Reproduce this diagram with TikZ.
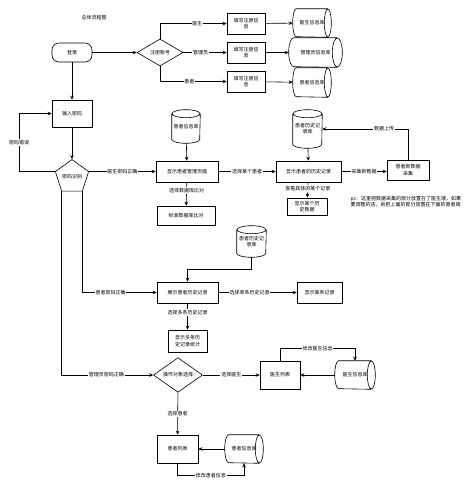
\documentclass[tikz,border=0pt]{standalone}
\usepackage{fontspec}
\newfontfamily\cjk{Noto Sans CJK SC}
\usetikzlibrary{arrows.meta, shapes.geometric}

\begin{document}
\begin{tikzpicture}[
  x=1pt, y=-1pt,
  font=\cjk\fontsize{5}{6.2}\selectfont,
  box/.style={draw, minimum width=40pt, minimum height=21pt, align=center, inner sep=1pt},
  db/.style n args={3}{minimum width=#1, minimum height=#2, inner sep=0pt, align=center,
    append after command={\pgfextra{
      \draw ([xshift=#3]\tikzlastnode.north west) -- ([xshift=-#3]\tikzlastnode.north east)
        ([xshift=#3]\tikzlastnode.north west) arc[start angle=90, end angle=270, x radius=#3, y radius=#2/2]
        -- ([xshift=-#3]\tikzlastnode.south east)
        ([xshift=-#3]\tikzlastnode.east) ellipse[x radius=#3, y radius=#2/2];
    }}},
  vdb/.style n args={3}{minimum width=#1, minimum height=#2, inner sep=0pt, align=center,
    append after command={\pgfextra{
      \draw ([yshift=-#3]\tikzlastnode.north) ellipse[x radius=#1/2, y radius=#3]
        ([yshift=-#3]\tikzlastnode.north west) -- ([yshift=#3]\tikzlastnode.south west)
        arc[start angle=180, end angle=360, x radius=#1/2, y radius=#3]
        -- ([yshift=-#3]\tikzlastnode.north east);
    }}},
  choice/.style={draw, diamond, inner sep=0pt, align=center},
  lab/.style={fill=white, inner sep=0.8pt},
  >={Stealth[length=4pt, width=3.6pt]}, line width=0.6pt
]
\fill[white] (0,0) rectangle (474,488);
\useasboundingbox (0,0) rectangle (474,488);

\node (title) at (94,18) {总体流程图};
\node[draw, rounded corners=7pt, minimum width=40pt, minimum height=19pt] (lg) at (72,52.5) {登录};
\node[choice, minimum width=46pt, minimum height=27pt] (reg) at (160,52.5) {注册账号};
\node[box, minimum width=38pt] (f1) at (246,23.5) {填写注册信\\息};
\node[box, minimum width=38pt] (f2) at (246,52.5) {填写注册信\\息};
\node[box, minimum width=38pt] (f3) at (246,81.5) {填写注册信\\息};
\node[db={38pt}{28pt}{3.5pt}] (ddb1) at (312,23) {医生信息库};
\node[db={53pt}{29pt}{5pt}] (adb) at (315.5,52.5) {管理员信息库};
\node[db={38pt}{29pt}{3.5pt}] (pdb1) at (312,82.5) {患者信息库};

\node[box, minimum height=27pt] (pwd) at (72,113.5) {输入密码};
\node[draw, regular polygon, regular polygon sides=5, minimum size=32pt, inner sep=0pt] (pw) at (72,177) {密码识别};

\node[vdb={28pt}{33pt}{4pt}] (pinfo) at (186,126.5) {患者信息库};
\node[box, minimum width=62pt] (mgr) at (187,171.5) {显示患者管理页面};
\node[box, minimum width=58pt, minimum height=19pt] (std) at (186,215.5) {标准数据库比对};
\node[vdb={29pt}{38pt}{4pt}] (hdb1) at (307.5,129) {患者历史记\\录库};
\node[box, minimum width=65pt] (hist) at (308.5,171.5) {显示患者的历史记录};
\node[box, minimum width=42pt, minimum height=20pt] (coll) at (408,170) {患者新数据\\采集};
\node[box, minimum width=40pt, minimum height=17pt] (one) at (307,206.5) {显示某个历\\史数据};
\node[anchor=west, align=left] (note) at (347,202) {ps：这里把数据采集的部分放置在了医生端，如果\\要调整的话，就把上面的部分放置在下面的患者端};

\node[vdb={29pt}{31pt}{4pt}] (hdb2) at (251.5,241.5) {患者历史记\\录库};
\node[box, minimum width=61pt] (show) at (187.5,292.5) {展示患者历史记录};
\node[box, minimum width=45pt] (single) at (319.5,292.5) {显示某条记录};
\node[box, minimum width=39pt, minimum height=22pt] (multi) at (187.5,341) {显示多条历\\史记录统计};

\node[choice, minimum width=49pt, minimum height=26pt] (op) at (178,375) {操作对象选择};
\node[box, minimum height=28pt] (doc) at (280,375) {医生列表};
\node[db={40pt}{28pt}{4pt}] (ddb2) at (355,375) {医生信息库};
\node[box, minimum width=41pt, minimum height=28pt] (plist) at (177.5,449) {患者列表};
\node[db={38pt}{28pt}{4pt}] (pdb2) at (244,449) {患者信息库};

\draw[->] (lg) -- (reg);
\draw[->] (reg.north) |- node[lab, pos=0.78] {医生} (f1.west);
\draw[->] (reg.east) -- node[lab, pos=0.4] {管理员} (f2.west);
\draw[->] (reg.south) |- node[lab, pos=0.72] {患者} (f3.west);
\draw[->] (f1) -- (ddb1);
\draw[->] (f2) -- (adb);
\draw[->] (f3) -- (pdb1);
\draw[->] (lg) -- (pwd);
\draw[->] (pwd) -- (pw.corner 1);
\draw[->] (pw.corner 2) -- ++(-36,0) |- node[lab, pos=0.25] {密码错误} (pwd.west);
\draw[->] (pw.corner 5) -- node[lab] {医生密码正确} (pw.corner 5 -| mgr.west);
\draw[->] (pinfo) -- (mgr);
\draw[->] (mgr) -- node[lab, pos=0.35] {选择数据库比对} (std);
\draw[->] (mgr) -- node[lab] {选择某个患者} (hist);
\draw[->] (hdb1) -- (hist);
\draw[->] (hist.east) -- node[lab] {采集新数据} (hist.east -| coll.west);
\draw[->] (coll.north) |- node[lab, pos=0.64] {数据上传} (hdb1.east);
\draw[->] (hist) -- node[lab, pos=0.4] {查看具体的某个记录} (one);
\draw[->] (pw.corner 4) |- node[lab, pos=0.69] {患者密码正确} (show.west);
\draw[->] (hdb2.south) -- ++(0,12) -| (show.north);
\draw[->] (show) -- node[lab, pos=0.4] {选择单条历史记录} (single);
\draw[->] (show) -- node[lab, pos=0.35] {选择多条历史记录} (multi);
\draw[->] (pw.corner 3) |- node[lab, pos=0.745] {管理员密码正确} (op.west);
\draw[->] (op) -- node[lab] {选择医生} (doc);
\draw[->] (ddb2) -- (doc);
\draw[->] (doc.north) -- ++(0,-12) -| node[lab, pos=0.25] {修改医生信息} (ddb2.north);
\draw[->] (op) -- node[lab] {选择患者} (plist);
\draw[->] (pdb2) -- (plist);
\draw[->] (plist.south) -- ++(0,12) -| node[lab, pos=0.25] {修改患者信息} (pdb2.south);
\end{tikzpicture}
\end{document}
